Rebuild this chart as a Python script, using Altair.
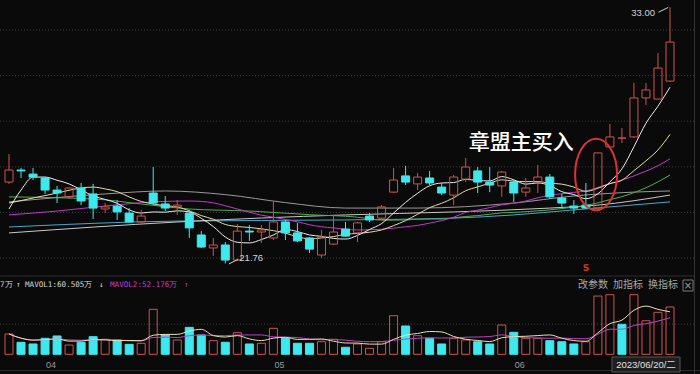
import altair as alt
import pandas as pd

# ---------------- data ----------------
bar_index = list(range(56))
opens = [25.33, 25.86, 25.68, 25.51, 24.98, 24.68, 25.07, 24.81, 24.15, 24.28,
         23.97, 23.58, 24.85, 24.37, 24.24, 23.97, 23.01, 22.44, 22.57, 21.91,
         23.18, 23.14, 22.88, 23.58, 23.10, 22.88, 22.13, 22.61, 23.27, 23.10,
         23.84, 23.75, 24.89, 25.60, 25.25, 25.51, 25.11, 24.76, 25.46, 25.82,
         25.33, 25.16, 25.33, 24.89, 25.29, 25.55, 24.63, 24.28, 24.32, 24.19,
         26.87, 27.26, 27.31, 29.02, 28.97, 29.76]
highs = [26.56, 25.95, 25.95, 25.55, 25.16, 25.11, 25.29, 25.25, 24.41, 24.54,
         24.19, 24.11, 25.99, 24.72, 24.54, 24.11, 23.18, 22.88, 22.70, 23.49,
         23.45, 23.45, 24.46, 23.67, 23.54, 22.92, 23.23, 23.89, 23.58, 23.58,
         23.97, 24.32, 25.95, 26.04, 25.73, 25.82, 25.29, 25.64, 26.39, 25.99,
         25.99, 25.82, 25.42, 25.51, 26.08, 25.68, 24.81, 24.54, 25.29, 26.61,
         27.88, 27.70, 29.68, 29.68, 30.99, 33.00]
lows = [25.25, 25.51, 25.42, 24.81, 24.41, 24.59, 24.32, 23.71, 23.97, 23.67,
        23.54, 23.54, 24.32, 24.06, 23.89, 22.88, 22.44, 22.09, 21.76, 21.87,
        22.75, 22.66, 22.79, 22.79, 22.70, 22.22, 22.00, 22.57, 22.92, 22.70,
        23.58, 23.67, 24.85, 25.20, 24.98, 25.20, 24.76, 24.32, 25.33, 24.85,
        24.89, 24.68, 24.46, 24.68, 24.85, 24.59, 24.19, 23.93, 24.15, 24.11,
        26.82, 27.04, 27.26, 28.71, 28.97, 29.72]
closes = [25.86, 25.82, 25.55, 24.98, 24.85, 25.07, 24.50, 24.19, 24.24, 24.02,
          23.58, 23.84, 24.41, 24.19, 24.32, 23.32, 22.48, 22.57, 21.91, 23.18,
          23.14, 23.23, 23.58, 23.10, 22.75, 22.39, 22.92, 23.14, 22.96, 23.54,
          23.67, 24.24, 25.42, 25.33, 25.55, 25.29, 24.85, 25.55, 25.99, 25.33,
          25.20, 25.77, 24.85, 25.07, 25.55, 24.68, 24.41, 24.19, 24.19, 26.61,
          27.31, 27.26, 29.02, 29.37, 30.33, 31.47]
# volume in 万 shares
volumes = [28.9, 17.1, 14.7, 22.8, 26.1, 13.2, 17.1, 25.1, 21.4, 20.4,
           14.2, 15.7, 64.1, 27.5, 20.4, 38.4, 27.5, 19.4, 17.1, 30.8,
           14.7, 15.7, 37.0, 22.8, 15.7, 15.7, 17.9, 21.4, 10.0, 14.7,
           8.5, 17.9, 55.0, 40.3, 26.5, 22.8, 14.7, 22.8, 20.4, 17.9,
           14.7, 41.7, 31.3, 22.8, 22.8, 19.4, 17.9, 14.7, 17.9, 83.0,
           84.9, 42.7, 84.9, 47.8, 59.8, 67.4]
# 1 = close >= previous close (red hollow bar), 0 = cyan bar
vol_up = [1, 0, 0, 0, 0, 1, 0, 0, 1, 0, 0, 1, 1, 0, 1, 0, 0, 1, 0, 1,
          0, 1, 1, 0, 0, 0, 1, 1, 0, 1, 1, 1, 1, 0, 1, 0, 0, 1, 1, 0,
          0, 1, 0, 1, 1, 0, 0, 0, 1, 1, 1, 0, 1, 1, 1, 1]

# moving-average lines: (bar index, price)
ma5_idx = list(range(56))
ma5_val = [24.15, 24.98, 25.55, 25.55, 25.41, 25.25, 24.99, 24.72, 24.57, 24.40,
           24.11, 23.97, 24.02, 24.01, 24.07, 24.02, 23.74, 23.38, 22.92, 22.69,
           22.66, 22.81, 23.01, 23.25, 23.16, 23.01, 22.95, 22.86, 22.83, 22.99,
           23.25, 23.51, 23.97, 24.44, 24.84, 25.17, 25.29, 25.31, 25.45, 25.40,
           25.38, 25.57, 25.43, 25.24, 25.29, 25.18, 24.91, 24.78, 24.60, 24.82,
           25.34, 25.91, 26.88, 27.91, 28.66, 29.49]
ma10_idx = [0, 2, 4, 6, 7, 8] + list(range(9, 56))
ma10_val = [24.41, 24.63, 24.85, 25.07, 25.11, 25.03,
            24.91, 24.68, 24.48, 24.37, 24.29, 24.24, 24.07, 23.86, 23.70, 23.47,
            23.38, 23.34, 23.28, 23.20, 23.09, 22.93, 22.84, 22.88, 22.94, 23.04,
            23.08, 23.13, 23.23, 23.42, 23.64, 23.92, 24.21, 24.40, 24.64, 24.95,
            25.12, 25.28, 25.43, 25.37, 25.35, 25.35, 25.28, 25.24, 25.11, 24.92,
            25.06, 25.26, 25.41, 25.83, 26.26, 26.74, 27.42]
ma20_idx = [0, 4, 8, 12, 15, 16, 17, 18] + list(range(19, 56))
ma20_val = [23.89, 24.06, 24.28, 24.46, 24.50, 24.48, 24.42, 24.29,
            24.15, 24.01, 23.88, 23.79, 23.69, 23.59, 23.46, 23.37, 23.32, 23.26,
            23.23, 23.24, 23.26, 23.31, 23.37, 23.43, 23.53, 23.64, 23.79, 24.00,
            24.10, 24.21, 24.33, 24.40, 24.50, 24.64, 24.75, 24.82, 24.88, 24.94,
            25.09, 25.27, 25.42, 25.60, 25.81, 26.05, 26.35]
ma30_idx = [0, 7, 11, 15, 20, 25] + list(range(29, 56))
ma30_val = [24.68, 24.59, 24.37, 24.15, 24.06, 23.90,
            23.79, 23.72, 23.66, 23.66, 23.67, 23.70, 23.71, 23.71, 23.76, 23.82,
            23.86, 23.92, 23.98, 24.00, 24.03, 24.07, 24.11, 24.17, 24.23, 24.30,
            24.42, 24.56, 24.69, 24.87, 25.08, 25.34, 25.64]
ma60_idx = [0, 8, 13, 18, 23, 28, 34, 42, 47, 52, 55]
ma60_val = [24.46, 24.81, 24.94, 24.78, 24.43, 24.19, 24.19, 24.41, 24.72, 24.89, 24.94]
ma120_idx = [0, 14, 28, 37, 45, 49, 55]
ma120_val = [23.10, 23.58, 23.89, 24.02, 24.19, 24.32, 24.76]
ma250_idx = [0, 14, 28, 37, 42, 47, 55]
ma250_val = [23.36, 23.62, 23.67, 23.75, 23.89, 24.11, 24.46]

grid_prices = [22, 24, 26, 28, 30, 32]
vol_grid_levels = [43.0]

month_labels = ["04", "05", "06"]
month_start_idx = [3, 22, 42]

# annotations (bar index, price)
extreme_labels = ["33.00", "21.76"]
extreme_idx = [55, 18]
extreme_price = [33.00, 21.76]
callout_text = ["章盟主买入"]
callout_idx = [47.0]
callout_price = [27.04]
ring_idx = [48.85]
ring_price = [25.66]
signal_idx = [48]
signal_text = ["S"]

header_parts = ["7万", "↑", "MAVOL1:60.505万", "↓", "MAVOL2:52.176万", "↑"]
buttons = ["改参数", "加指标", "换指标"]
date_tip = "2023/06/20/二"

# ---------------- styling ----------------
BG = "#0a0a0a"
RED = "#d0524e"
CYAN = "#3ee8ec"
GRID = "#3a3a3a"

XS = alt.Scale(domain=[0, 55], range=[4, 675], nice=False, zero=False)
PS = alt.Scale(domain=[22, 32], range=[258, 30], nice=False, zero=False)
VS = alt.Scale(domain=[0, 100], range=[354.3, 284.1], nice=False, zero=False)

candles = pd.DataFrame({"i": bar_index, "open": opens, "high": highs,
                        "low": lows, "close": closes, "vol": volumes, "vup": vol_up})

def X(f="i:Q"):
    return alt.X(f, scale=XS, axis=None)

def PY(f):
    return alt.Y(f, scale=PS, axis=None)

def VY(f):
    return alt.Y(f, scale=VS, axis=None)

layers = []

# grid
layers.append(alt.Chart(pd.DataFrame({"p": grid_prices})).mark_rule(
    color=GRID, strokeDash=[1, 2], strokeWidth=1).encode(
    y=PY("p:Q"), x=alt.value(0), x2=alt.value(694)))
layers.append(alt.Chart(pd.DataFrame({"v": vol_grid_levels})).mark_rule(
    color=GRID, strokeDash=[1, 2], strokeWidth=1).encode(
    y=VY("v:Q"), x=alt.value(0), x2=alt.value(694)))

# panel separators
layers.append(alt.Chart(pd.DataFrame({"k": [0]})).mark_rule(color="#2c2c2c", strokeWidth=1).encode(
    x=alt.value(0), x2=alt.value(694), y=alt.value(276)))
layers.append(alt.Chart(pd.DataFrame({"k": [0]})).mark_rule(color="#2c2c2c", strokeWidth=1).encode(
    x=alt.value(0), x2=alt.value(700), y=alt.value(370.5)))
layers.append(alt.Chart(pd.DataFrame({"k": [0]})).mark_rule(color="#333333", strokeWidth=1).encode(
    x=alt.value(694.5), y=alt.value(0), y2=alt.value(374)))

# moving averages
ma_specs = [
    (ma250_idx, ma250_val, "#4aa6cc"),
    (ma120_idx, ma120_val, "#c8c8c8"),
    (ma60_idx, ma60_val, "#9a9a9a"),
    (ma30_idx, ma30_val, "#4fb04f"),
    (ma20_idx, ma20_val, "#c03ac8"),
    (ma10_idx, ma10_val, "#e6dca0"),
    (ma5_idx, ma5_val, "#eeeeee"),
]
for ix, vals, col in ma_specs:
    layers.append(alt.Chart(pd.DataFrame({"i": ix, "p": vals})).mark_line(
        color=col, strokeWidth=1, interpolate="monotone").encode(
        x=X(), y=PY("p:Q")))

up = alt.datum.close >= alt.datum.open
cbase = alt.Chart(candles).transform_calculate(
    top="max(datum.open, datum.close)", bot="min(datum.open, datum.close)")
wick_color = alt.when(up).then(alt.value(RED)).otherwise(alt.value(CYAN))
layers.append(cbase.mark_rule(strokeWidth=1).encode(
    x=X(), y=PY("low:Q"), y2="bot:Q", color=wick_color))
layers.append(cbase.mark_rule(strokeWidth=1).encode(
    x=X(), y=PY("top:Q"), y2="high:Q", color=wick_color))
layers.append(cbase.mark_bar(size=8, strokeWidth=1).encode(
    x=X(), y=PY("open:Q"), y2="close:Q",
    fill=alt.when(up).then(alt.value(BG)).otherwise(alt.value(CYAN)),
    fillOpacity=alt.when(up).then(alt.value(0)).otherwise(alt.value(1)),
    stroke=wick_color))

# volume
vup = alt.datum.vup == 1
layers.append(alt.Chart(candles).transform_calculate(z="0").mark_bar(size=8, strokeWidth=1).encode(
    x=X(), y=VY("vol:Q"), y2="z:Q",
    fill=alt.when(vup).then(alt.value(BG)).otherwise(alt.value(CYAN)),
    fillOpacity=alt.when(vup).then(alt.value(0)).otherwise(alt.value(1)),
    stroke=alt.when(vup).then(alt.value(RED)).otherwise(alt.value(CYAN))))
vma = alt.Chart(candles).transform_window(
    mv5="mean(vol)", frame=[-4, 0], sort=[alt.SortField("i")]).transform_window(
    mv10="mean(vol)", frame=[-9, 0], sort=[alt.SortField("i")])
layers.append(vma.mark_line(color="#c040c8", strokeWidth=1, interpolate="monotone").encode(
    x=X(), y=VY("mv10:Q")))
layers.append(vma.mark_line(color="#e8e0b8", strokeWidth=1, interpolate="monotone").encode(
    x=X(), y=VY("mv5:Q")))

# extreme labels
ext = pd.DataFrame({"i": extreme_idx, "p": extreme_price, "t": extreme_labels})
layers.append(alt.Chart(ext.iloc[[0]]).mark_text(
    align="right", baseline="middle", dx=-15, dy=6, color="#d4d4d4",
    font="Liberation Sans", fontSize=9.5).encode(x=X(), y=PY("p:Q"), text="t:N"))
layers.append(alt.Chart(ext.iloc[[1]]).mark_text(
    align="left", baseline="middle", dx=14, dy=-5, color="#d4d4d4",
    font="Liberation Sans", fontSize=9.5).encode(x=X(), y=PY("p:Q"), text="t:N"))
arrows = ext.assign(i0=[54.05, 18.3], p0=[32.78, 21.74], i1=[54.85, 19.1], p1=[32.99, 21.95])
layers.append(alt.Chart(arrows).mark_rule(color="#d4d4d4", strokeWidth=1).encode(
    x=X("i0:Q"), x2="i1:Q", y=PY("p0:Q"), y2="p1:Q"))

# callout
layers.append(alt.Chart(pd.DataFrame({"i": callout_idx, "p": callout_price, "t": callout_text})).mark_text(
    align="right", baseline="middle", color="#ffffff", font="Noto Sans CJK SC",
    fontSize=21, fontWeight=500).encode(x=X(), y=PY("p:Q"), text="t:N"))
ellipse = "M 0 -1.7 A 1 1.7 0 1 1 0 1.7 A 1 1.7 0 1 1 0 -1.7 Z"
layers.append(alt.Chart(pd.DataFrame({"i": ring_idx, "p": ring_price})).mark_point(
    shape=ellipse, size=1764, filled=False, stroke="#d83434", strokeWidth=2, opacity=1).encode(
    x=X(), y=PY("p:Q")))
layers.append(alt.Chart(pd.DataFrame({"i": signal_idx, "t": signal_text})).mark_text(
    color="#d03030", font="DejaVu Sans", fontSize=9, fontWeight="bold", baseline="middle").encode(
    x=X(), y=alt.value(268), text="t:N"))

# month labels
layers.append(alt.Chart(pd.DataFrame({"i": month_start_idx, "t": month_labels})).mark_text(
    align="left", dx=1, baseline="middle", color="#9a9a9a", font="Liberation Sans", fontSize=9).encode(
    x=X(), y=alt.value(365), text="t:N"))

# header of the volume panel
hx = [0, 16, 25, 99, 110, 184]
hc = ["#d8d8d8", "#d8d8d8", "#d8d8d8", "#e0d8a8", "#c83cc8", "#c83cc8"]
for t, x0, c in zip(header_parts, hx, hc):
    layers.append(alt.Chart(pd.DataFrame({"t": [t]})).mark_text(
        align="left", baseline="middle", color=c,
        font="DejaVu Sans Mono", fontSize=7.6).encode(
        x=alt.value(x0), y=alt.value(285), text="t:N"))

for t, x0 in zip(buttons, [578, 613, 648]):
    layers.append(alt.Chart(pd.DataFrame({"t": [t]})).mark_text(
        align="left", baseline="middle", color="#a8a8a8",
        font="Noto Sans CJK SC", fontSize=10).encode(
        x=alt.value(x0), y=alt.value(285), text="t:N"))
layers.append(alt.Chart(pd.DataFrame({"k": [0]})).mark_rect(
    fill=BG, stroke="#7a7a7a", strokeWidth=1).encode(
    x=alt.value(683), x2=alt.value(693), y=alt.value(280), y2=alt.value(291)))
layers.append(alt.Chart(pd.DataFrame({"t": ["×"]})).mark_text(
    align="center", baseline="middle", color="#9a9a9a", font="DejaVu Sans", fontSize=10).encode(
    x=alt.value(688), y=alt.value(285.5), text="t:N"))

# date tooltip
layers.append(alt.Chart(pd.DataFrame({"k": [0]})).mark_rect(
    fill="#1e1e1e", stroke="#555555", strokeWidth=1).encode(
    x=alt.value(612), x2=alt.value(680), y=alt.value(357), y2=alt.value(372)))
layers.append(alt.Chart(pd.DataFrame({"t": [date_tip]})).mark_text(
    align="center", baseline="middle", color="#e0e0e0",
    font="Liberation Sans, Noto Sans CJK SC", fontSize=9.5).encode(
    x=alt.value(646), y=alt.value(365), text="t:N"))

chart = alt.layer(*layers).resolve_scale(y="independent").properties(
    width=700, height=374, background=BG, padding=0,
    autosize=alt.AutoSizeParams(type="none")
).configure_view(stroke=None)

chart.save("out.html", embed_options={"renderer": "svg", "actions": False})
